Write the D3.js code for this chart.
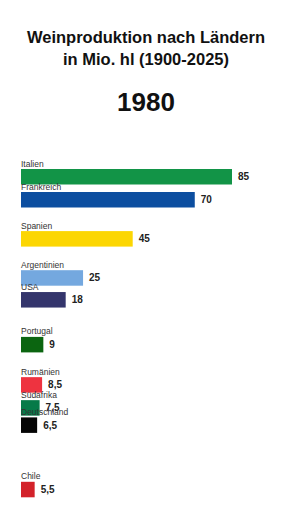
<!DOCTYPE html>
<html>
<head>
<meta charset="utf-8">
<script src="https://cdn.jsdelivr.net/npm/d3@7"></script>
<style>
  body { margin: 0; background: #fff; }
  svg { display: block; font-family: "Liberation Sans", Arial, sans-serif; }
</style>
</head>
<body>
<div id="chart"></div>
<script>
"use strict";
// frame of the bar chart race: year 1980
var YEAR = "1980";
var TITLE = ["Weinproduktion nach Ländern", "in Mio. hl (1900-2025)"];
var countries = ["Italien", "Frankreich", "Spanien", "Argentinien", "USA", "Portugal", "Rumänien", "Südafrika", "Deutschland", "Chile"];
var values = [85, 70, 45, 25, 18, 9, 8.5, 7.5, 6.5, 5.5];
// rank of each bar in this (mid-transition) frame
var ranks = [0, 1, 2.7, 4.4, 5.35, 7.3, 9.05, 10.05, 10.8, 13.6];
var colors = ["#129447", "#0c4ea0", "#fcd602", "#74a8df", "#34356c", "#0b6510", "#ee3340", "#067a48", "#050505", "#d3222a"];

var width = 292, height = 520;
var margin = { top: 169, left: 21 };
var barH = 15.5;

var svg = d3.select("#chart").append("svg")
    .attr("width", width)
    .attr("height", height);

svg.selectAll("text.title")
    .data(TITLE)
    .enter()
    .append("text")
    .attr("class", "title")
    .attr("x", width / 2)
    .attr("y", function (d, i) { return 43 + i * 22; })
    .attr("text-anchor", "middle")
    .attr("font-size", 16.5)
    .attr("font-weight", "bold")
    .attr("fill", "#111")
    .text(function (d) { return d; });

svg.append("text")
    .attr("x", width / 2)
    .attr("y", 111)
    .attr("text-anchor", "middle")
    .attr("font-size", 26)
    .attr("font-weight", "bold")
    .attr("fill", "#111")
    .text(YEAR);

var x = d3.scaleLinear()
    .domain([0, 85])
    .range([margin.left, 232]);

var y = d3.scaleLinear()
    .domain([0, 1])
    .range([margin.top, margin.top + 23]);

var de = d3.formatLocale({ decimal: ",", thousands: ".", grouping: [3], currency: ["", " €"] });
var fmt = de.format(",~r");

var data = countries.map(function (c, i) {
    return { name: c, value: values[i], rank: ranks[i], color: colors[i] };
});

var g = svg.selectAll("g.bar")
    .data(data)
    .enter()
    .append("g")
    .attr("class", "bar");

g.append("rect")
    .attr("x", x(0))
    .attr("y", function (d) { return y(d.rank); })
    .attr("width", function (d) { return x(d.value) - x(0); })
    .attr("height", barH)
    .attr("fill", function (d) { return d.color; });

g.append("text")
    .attr("x", x(0))
    .attr("y", function (d) { return y(d.rank) - 2.5; })
    .attr("font-size", 8.5)
    .attr("fill", "#333")
    .text(function (d) { return d.name; });

g.append("text")
    .attr("x", function (d) { return x(d.value) + 6; })
    .attr("y", function (d) { return y(d.rank) + barH / 2 + 3.5; })
    .attr("font-size", 10)
    .attr("font-weight", "bold")
    .attr("fill", "#222")
    .text(function (d) { return fmt(d.value); });
</script>
</body>
</html>
